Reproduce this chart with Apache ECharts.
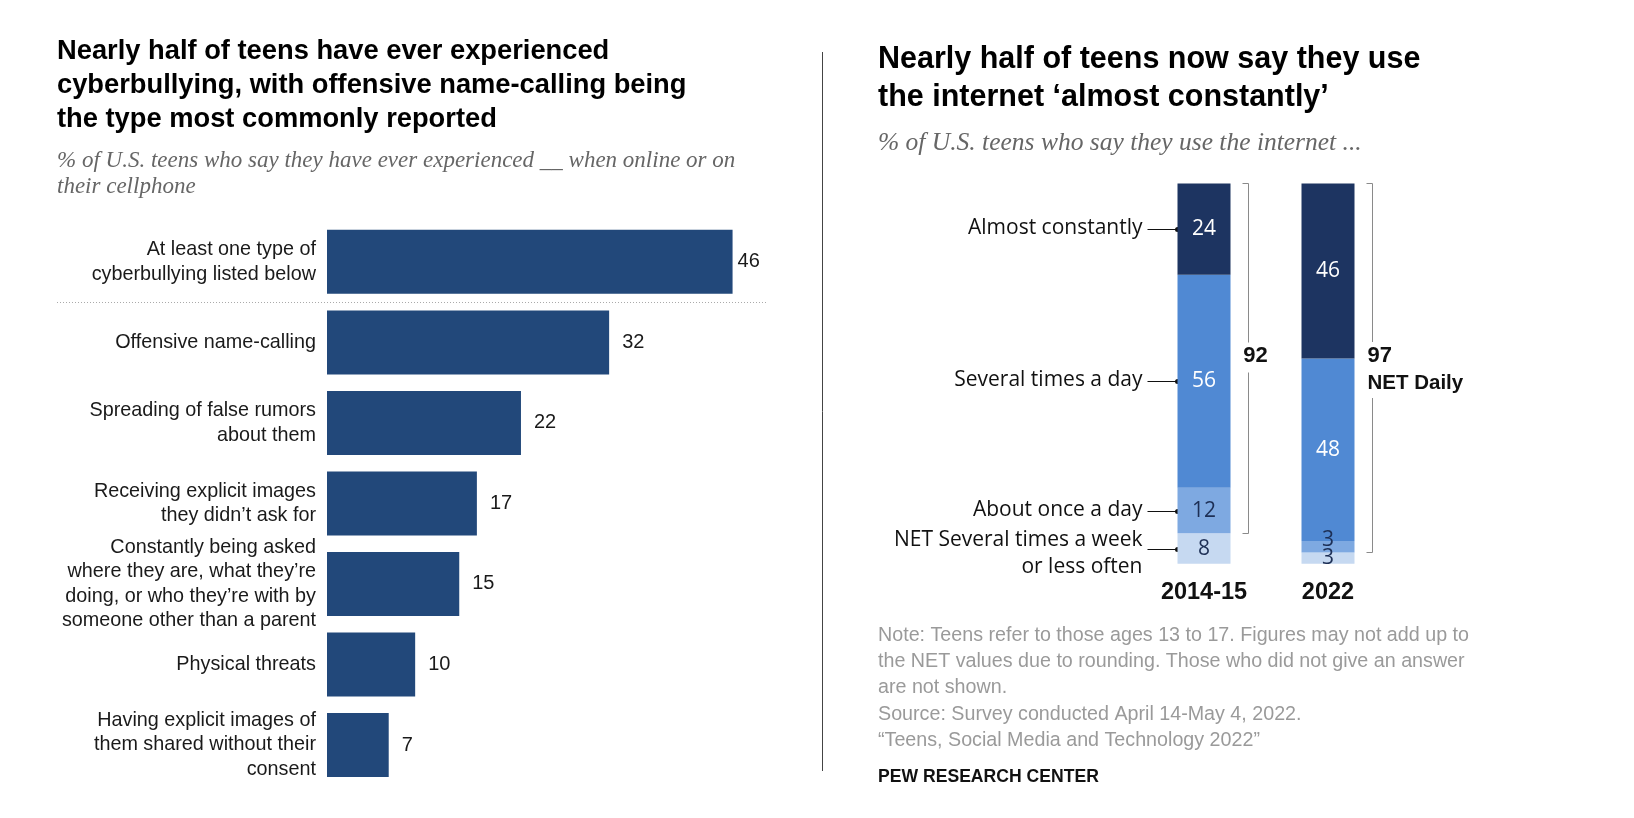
<!DOCTYPE html>
<html><head><meta charset="utf-8">
<script src="https://cdn.jsdelivr.net/npm/echarts@6/dist/echarts.min.js"></script>
<style>html,body{margin:0;padding:0;background:#fff}#c{width:1634px;height:818px}</style>
</head><body><div id="c"></div>
<script>
// ---- Left chart data ----
const bullyCategories = [
  'At least one type of\ncyberbullying listed below',
  'Offensive name-calling',
  'Spreading of false rumors\nabout them',
  'Receiving explicit images\nthey didn\u2019t ask for',
  'Constantly being asked\nwhere they are, what they\u2019re\ndoing, or who they\u2019re with by\nsomeone other than a parent',
  'Physical threats',
  'Having explicit images of\nthem shared without their\nconsent'
];
const bullyValues = [46, 32, 22, 17, 15, 10, 7];

// ---- Right chart data ----
const years = ['2014-15', '2022'];
const freqNames = ['NET Several times a week\nor less often', 'About once a day', 'Several times a day', 'Almost constantly'];
const netWeekly = [8, 3];
const onceDaily = [12, 3];
const severalDaily = [56, 48];
const almostConstantly = [24, 46];
const netDaily = [92, 97];

// ---- Texts ----
const leftTitle = ['Nearly half of teens have ever experienced', 'cyberbullying, with offensive name-calling being', 'the type most commonly reported'];
const leftSubtitle = ['% of U.S. teens who say they have ever experienced __ when online or on', 'their cellphone'];
const rightTitle = ['Nearly half of teens now say they use', 'the internet \u2018almost constantly\u2019'];
const rightSubtitle = ['% of U.S. teens who say they use the internet ...'];
const noteLines = ['Note: Teens refer to those ages 13 to 17. Figures may not add up to', 'the NET values due to rounding. Those who did not give an answer', 'are not shown.', 'Source: Survey conducted April 14-May 4, 2022.', '\u201cTeens, Social Media and Technology 2022\u201d'];
const brandText = 'PEW RESEARCH CENTER';

const C_LEFT = '#22487a';
const C_DARK = '#1d3461';
const C_MED = '#5089d3';
const C_ONCE = '#7ea9e1';
const C_LIGHT = '#c6d9f1';
const SANS = '"Liberation Sans", Arial, sans-serif';
const SERIF = '"Liberation Serif", serif';
const RSANS = '"Open Sans", "Liberation Sans", sans-serif';

const chart = echarts.init(document.getElementById('c'), null, {renderer: 'canvas'});

function txt(text, x, y, o) {
  return {type: 'text', silent: true, style: Object.assign({text: text, x: x, y: y, align: 'left', verticalAlign: 'middle', fill: '#111', fontFamily: SANS, fontSize: 18}, o || {})};
}

const stackSeries = [netWeekly, onceDaily, severalDaily, almostConstantly].map(function (arr, i) {
  const colors = [C_LIGHT, C_ONCE, C_MED, C_DARK];
  const lblColors = ['#1d2f55', '#1d2f55', '#ffffff', '#ffffff'];
  return {
    type: 'bar', name: freqNames[i], xAxisIndex: 1, yAxisIndex: 1, stack: 'use', barWidth: 53,
    itemStyle: {color: colors[i]},
    data: arr.map(function (v, j) {
      const d = {value: v};
      if (i === 1 && j === 1) d.label = {offset: [0, -7]};
      return d;
    }),
    label: {show: true, position: 'inside', color: lblColors[i], fontFamily: RSANS, fontSize: 21},
    emphasis: {disabled: true}
  };
});

const option = {
  animation: false,
  backgroundColor: '#fff',
  grid: [
    {left: 327, top: 221.6, width: 529, height: 563.7},
    {left: 1142, top: 183.4, width: 248, height: 380.4}
  ],
  xAxis: [
    {type: 'value', gridIndex: 0, min: 0, max: 60, show: false},
    {type: 'category', gridIndex: 1, data: years, axisLine: {show: false}, axisTick: {show: false},
      axisLabel: {margin: 17, color: '#111', fontFamily: SANS, fontWeight: 'bold', fontSize: 23.5}}
  ],
  yAxis: [
    {type: 'category', gridIndex: 0, inverse: true, data: bullyCategories,
      axisLine: {show: false}, axisTick: {show: false},
      axisLabel: {margin: 11, color: '#1a1a1a', fontFamily: SANS, fontSize: 19.8, lineHeight: 24.6, align: 'right', padding: [5, 0, 0, 0]}},
    {type: 'value', gridIndex: 1, min: 0, max: 100, show: false}
  ],
  series: [
    {type: 'bar', xAxisIndex: 0, yAxisIndex: 0, barWidth: 64, itemStyle: {color: C_LEFT},
      data: bullyValues.map(function (v, i) { return i === 0 ? {value: v, label: {distance: 5}} : v; }),
      label: {show: true, position: 'right', distance: 13, color: '#1a1a1a', fontFamily: SANS, fontSize: 20, padding: [3, 0, 0, 0]},
      emphasis: {disabled: true}}
  ].concat(stackSeries)
};
chart.setOption(option);

// ---- Annotations positioned through the library's scales ----
const g = [];
leftTitle.forEach(function (t, i) { g.push(txt(t, 57, 51 + i * 34.4, {fontWeight: 'bold', fontSize: 27.3, fill: '#000'})); });
leftSubtitle.forEach(function (t, i) { g.push(txt(t, 57, 160.5 + i * 26, {fontFamily: SERIF, fontStyle: 'italic', fontSize: 23, fill: '#666'})); });
rightTitle.forEach(function (t, i) { g.push(txt(t, 878, 59.3 + i * 38.6, {fontWeight: 'bold', fontSize: 30.5, fill: '#000'})); });
rightSubtitle.forEach(function (t) { g.push(txt(t, 878, 143.7, {fontFamily: SERIF, fontStyle: 'italic', fontSize: 25.5, fill: '#666'})); });
noteLines.forEach(function (t, i) { g.push(txt(t, 878, 635.6 + i * 26.2, {fontSize: 19.7, fill: '#9a9a9a'})); });
g.push(txt(brandText, 878, 777.4, {fontWeight: 'bold', fontSize: 17.6, fill: '#111'}));

// vertical divider
g.push({type: 'line', silent: true, shape: {x1: 822.5, y1: 52, x2: 822.5, y2: 771}, style: {stroke: '#444', lineWidth: 1}});

// dotted separator between first and second bar
const p0 = chart.convertToPixel({xAxisIndex: 0, yAxisIndex: 0}, [0, 0]);
const p1 = chart.convertToPixel({xAxisIndex: 0, yAxisIndex: 0}, [0, 1]);
const sepY = Math.round((p0[1] + p1[1]) / 2) + 0.5;
g.push({type: 'line', silent: true, shape: {x1: 57, y1: sepY, x2: 766, y2: sepY}, style: {stroke: '#aaa', lineWidth: 1, lineDash: [1, 2]}});

// leader lines for 2014-15 segments
const barHalf = 53 / 2;
const segArrays = [netWeekly, onceDaily, severalDaily, almostConstantly];
let cum = 0;
segArrays.forEach(function (arr, i) {
  const mid = cum + arr[0] / 2;
  cum += arr[0];
  const p = chart.convertToPixel({xAxisIndex: 1, yAxisIndex: 1}, [0, mid]);
  const xl = p[0] - barHalf;
  const y = Math.round(p[1]) + 0.5;
  g.push({type: 'line', silent: true, shape: {x1: xl - 30, y1: y, x2: xl, y2: y}, style: {stroke: '#111', lineWidth: 1}});
  g.push({type: 'circle', silent: true, shape: {cx: xl, cy: y, r: 2.5}, style: {fill: '#111'}});
  const lines = freqNames[i].split('\n');
  const lh = 27;
  lines.forEach(function (l, k) {
    const ty = lines.length > 1 ? (y - 9 + k * lh) : y - 1;
    g.push(txt(l, xl - 35, ty, {align: 'right', fontFamily: RSANS, fontSize: 21, fill: '#111'}));
  });
});

// NET brackets
function bracket(ci, total, gapTop, gapBot) {
  const top = chart.convertToPixel({xAxisIndex: 1, yAxisIndex: 1}, [ci, 100]);
  const bot = chart.convertToPixel({xAxisIndex: 1, yAxisIndex: 1}, [ci, 100 - total]);
  const x = Math.round(top[0] + barHalf + 17) + 0.5;
  const yt = Math.round(top[1]) + 0.5, yb = Math.round(bot[1]) + 0.5;
  const st = {stroke: '#8a8a8a', lineWidth: 1};
  g.push({type: 'line', silent: true, shape: {x1: x - 6, y1: yt, x2: x, y2: yt}, style: st});
  g.push({type: 'line', silent: true, shape: {x1: x - 6, y1: yb, x2: x, y2: yb}, style: st});
  const mid = (yt + yb) / 2;
  g.push({type: 'line', silent: true, shape: {x1: x, y1: yt, x2: x, y2: mid + gapTop}, style: st});
  g.push({type: 'line', silent: true, shape: {x1: x, y1: mid + gapBot, x2: x, y2: yb}, style: st});
  return {x: x, mid: mid};
}
const b1 = bracket(0, netDaily[0], -16, 14);
g.push(txt(String(netDaily[0]), b1.x + 7, b1.mid - 3, {align: 'center', fontWeight: 'bold', fontSize: 22}));
const b2 = bracket(1, netDaily[1], -26, 30);
g.push(txt(String(netDaily[1]), b2.x - 5, b2.mid - 12, {align: 'left', fontWeight: 'bold', fontSize: 22}));
g.push(txt('NET Daily', b2.x - 5, b2.mid + 15, {align: 'left', fontWeight: 'bold', fontSize: 20.5}));

chart.setOption({graphic: g});
</script></body></html>
